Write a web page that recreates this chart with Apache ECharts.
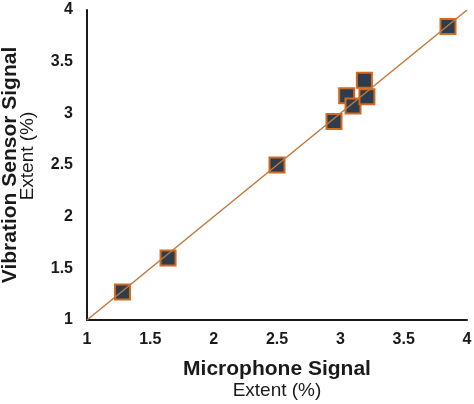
<!DOCTYPE html>
<html>
<head>
<meta charset="utf-8">
<script src="https://cdn.jsdelivr.net/npm/echarts@6/dist/echarts.min.js"></script>
<style>
  html, body { margin: 0; padding: 0; background: #fff; }
  #chart { width: 474px; height: 404px; }
</style>
</head>
<body>
<div id="chart"></div>
<script>
// microphone vs vibration sensor extent (%)
const micExtent = [1.28, 1.64, 2.5, 2.95, 3.05, 3.1, 3.19, 3.21, 3.85]
const vibExtent = [1.27, 1.6, 2.5, 2.92, 3.17, 3.07, 3.32, 3.16, 3.84]
const fitX = [1, 4]
const fitY = [1, 4]

const font = 'Liberation Sans, Arial, sans-serif'
const points = micExtent.map((x, i) => [x, vibExtent[i]])
const fitLine = fitX.map((x, i) => [x, fitY[i]])

const chart = echarts.init(document.getElementById('chart'))

const axisCommon = {
  type: 'value',
  min: 1,
  max: 4,
  interval: 0.5,
  nameLocation: 'middle',
  axisLine: { show: true, onZero: false, lineStyle: { color: '#1a1a1a', width: 2 } },
  axisTick: { show: false },
  splitLine: { show: false },
  axisLabel: { color: '#1a1a1a', fontFamily: font, fontWeight: 'bold', fontSize: 16 }
}

chart.setOption({
  animation: false,
  grid: { left: 87, right: 7, top: 10, bottom: 84, outerBoundsMode: 'none', containLabel: false },
  xAxis: {
    ...axisCommon,
    name: '{a|Microphone Signal}\n{b|Extent (%)}',
    nameGap: 38,
    axisLabel: { ...axisCommon.axisLabel, margin: 12 },
    nameTextStyle: {
      rich: {
        a: { fontFamily: font, fontWeight: 'bold', fontSize: 21, lineHeight: 22, color: '#1a1a1a' },
        b: { fontFamily: font, fontSize: 19, lineHeight: 22, color: '#1a1a1a' }
      }
    }
  },
  yAxis: {
    ...axisCommon,
    name: '{a|Vibration Sensor Signal}\n{b|Extent (%)}',
    nameGap: 50,
    axisLabel: { ...axisCommon.axisLabel, margin: 14 },
    nameTextStyle: {
      rich: {
        a: { fontFamily: font, fontWeight: 'bold', fontSize: 21, lineHeight: 18, color: '#1a1a1a' },
        b: { fontFamily: font, fontSize: 19, lineHeight: 18, color: '#1a1a1a', padding: [0, 0, 0, 18] }
      }
    }
  },
  series: [
    {
      type: 'scatter',
      data: points,
      symbol: 'rect',
      symbolSize: 15,
      itemStyle: { color: '#2e3d4d', borderColor: '#d2691e', borderWidth: 2, opacity: 1 },
      z: 2
    },
    {
      type: 'line',
      data: fitLine,
      showSymbol: false,
      symbol: 'none',
      lineStyle: { color: '#c0783a', width: 1.5 },
      z: 3
    }
  ]
})
</script>
</body>
</html>
